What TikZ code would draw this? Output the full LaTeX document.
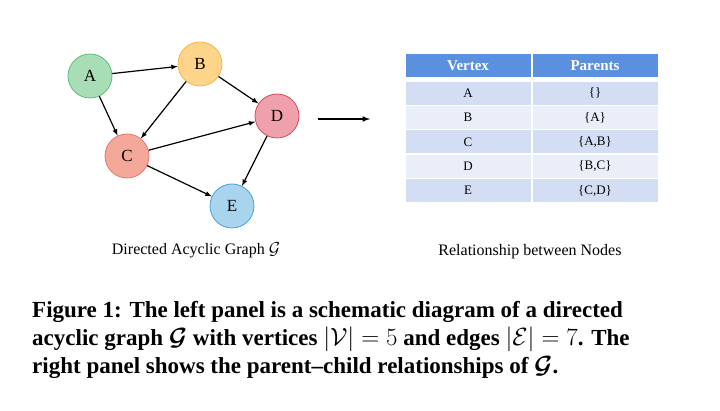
\documentclass[tikz,border=0pt]{standalone}
\usepackage{amsmath}
\usepackage{fontspec}
\setmainfont{Liberation Serif}
\usetikzlibrary{positioning}
\definecolor{hdr}{HTML}{5B8FE0}
\definecolor{rowa}{HTML}{D3DDF3}
\definecolor{rowb}{HTML}{E9EEF9}
\tikzset{
  vtx/.style={draw,circle,minimum size=44pt,inner sep=0pt,thick,font=\fontsize{17}{17}\selectfont},
  edge/.style={draw,->,>=latex,line width=1.2pt},
  cell/.style={minimum width=125pt,minimum height=23pt,inner sep=0pt,font=\fontsize{13}{13}\selectfont},
}
\begin{document}
\begin{tikzpicture}[x=1pt,y=-1pt]
  \useasboundingbox (0,0) rectangle (720,411);
  % graph
  \node[vtx,fill={rgb,255:red,168;green,221;blue,181},draw={rgb,255:red,92;green,191;blue,122}] (vA) at (90,76) {A};
  \node[vtx,fill={rgb,255:red,253;green,212;blue,138},draw={rgb,255:red,245;green,182;blue,66}] (vB) at (200,64) {B};
  \node[vtx,fill={rgb,255:red,244;green,168;blue,154},draw={rgb,255:red,229;green,120;blue,106}] (vC) at (127,156) {C};
  \node[vtx,fill={rgb,255:red,240;green,160;blue,170},draw={rgb,255:red,217;green,73;blue,94}] (vD) at (277,116) {D};
  \node[vtx,fill={rgb,255:red,168;green,212;blue,238},draw={rgb,255:red,74;green,160;blue,216}] (vE) at (232,206) {E};
  \path[edge] (vA) -- (vB);
  \path[edge] (vA) -- (vC);
  \path[edge] (vB) -- (vC);
  \path[edge] (vB) -- (vD);
  \path[edge] (vC) -- (vD);
  \path[edge] (vC) -- (vE);
  \path[edge] (vD) -- (vE);
  \node[font=\fontsize{16}{16}\selectfont] (capL) at (196,250) {Directed Acyclic Graph $\mathcal{G}$};
  % arrow to table
  \coordinate (arrS) at (318,119);
  \coordinate (arrT) at (370,119);
  \draw[->,>=latex,line width=1.5pt] (arrS) -- (arrT);
  % table
  \node[cell,fill=hdr,text=white,font=\fontsize{15}{15}\selectfont\bfseries] (h1) at (468,66) {Vertex};
  \node[cell,fill=hdr,text=white,font=\fontsize{15}{15}\selectfont\bfseries] (h2) at (595,66) {Parents};
  \foreach \v/\p/\c [count=\i] in {A/\{\}/rowa,B/\{A\}/rowb,C/\{A{,}B\}/rowa,D/\{B{,}C\}/rowb,E/\{C{,}D\}/rowa}{
    \node[cell,fill=\c] (r\i a) at (468,69+\i*24.3) {\v};
    \node[cell,fill=\c] (r\i b) at (595,69+\i*24.3) {\p};
  }
  \node[font=\fontsize{16}{16}\selectfont] (capR) at (530,252) {Relationship between Nodes};
  % figure caption
  \node[anchor=west,align=left,inner sep=0pt,font=\fontsize{23}{28}\selectfont\bfseries] (fig) at (32,340)
    {Figure 1: The left panel is a schematic diagram of a directed\\
     acyclic graph $\boldsymbol{\mathcal{G}}$ with vertices $|\mathcal{V}|=5$ and edges $|\mathcal{E}|=7$. The\\
     right panel shows the parent--child relationships of $\boldsymbol{\mathcal{G}}$.};
\end{tikzpicture}
\end{document}
